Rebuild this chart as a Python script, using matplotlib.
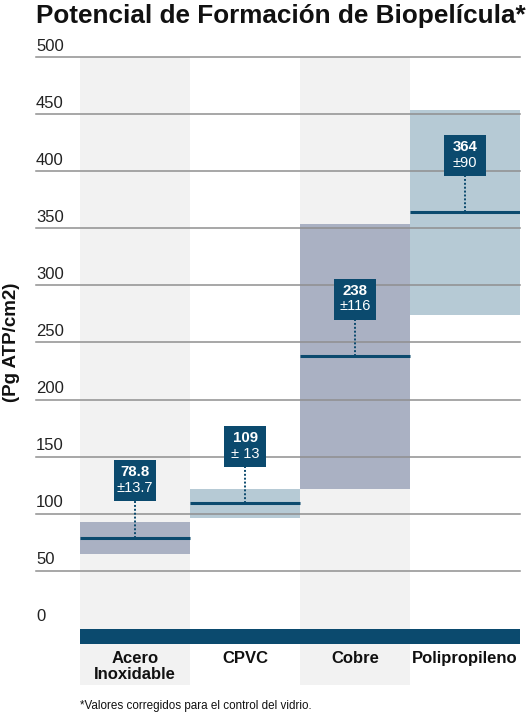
import matplotlib
matplotlib.use("Agg")
import matplotlib.pyplot as plt
from matplotlib.patches import Rectangle
from matplotlib.transforms import blended_transform_factory

plt.rcParams['font.family'] = ['Liberation Sans', 'DejaVu Sans']

categories = ["Acero\nInoxidable", "CPVC", "Cobre", "Polipropileno"]
means = [78.8, 109, 238, 364]
errors = [13.7, 13, 116, 90]
value_labels = ["78.8", "109", "238", "364"]
error_labels = ["±13.7", "± 13", "±116", "±90"]
yticks = [0, 50, 100, 150, 200, 250, 300, 350, 400, 450, 500]

band_colors = ["#aab1c3", "#b6cad5", "#aab1c3", "#b6cad5"]
navy = "#0b4a6e"
W, H = 527, 715

fig = plt.figure(figsize=(W / 100, H / 100), dpi=100)
ax = fig.add_axes([80 / W, (H - 685) / H, 440 / W, 628 / H])
ax.set_xlim(0, 4)
ax.set_ylim(-50, 500)
ax.axis("off")

# alternating column backgrounds
for i in range(len(categories)):
    if i % 2 == 0:
        ax.add_patch(Rectangle((i, -50), 1, 550, facecolor="#f2f2f2",
                               edgecolor="none", zorder=0))

# bands (mean ± error)
x = [i + 0.5 for i in range(len(categories))]
ax.bar(x, [2 * e for e in errors], bottom=[m - e for m, e in zip(means, errors)],
       width=1.0, color=band_colors, zorder=1)

# gridlines and tick labels
lt = blended_transform_factory(fig.transFigure, ax.transData)
for t in yticks:
    if t > 0:
        ax.plot([36 / W, 520 / W], [t, t], transform=lt, color="#8f8f8f",
                lw=1.1, zorder=2, clip_on=False)
    ax.text(36 / W, t + 3, str(t), transform=lt, ha="left", va="bottom",
            fontsize=12, color="#222222")

# dark base band
ax.add_patch(Rectangle((0, -14), 4, 13, facecolor=navy, edgecolor="none", zorder=3))

# mean lines, dotted connectors, label boxes
box_w = 0.38
for xi, m, vl, el in zip(x, means, value_labels, error_labels):
    ax.hlines(m, xi - 0.5, xi + 0.5, color=navy, lw=2.2, zorder=4)
    ax.plot([xi, xi], [m, m + 32], color=navy, lw=1.4, ls=(0, (1, 1)), zorder=4)
    ax.add_patch(Rectangle((xi - box_w / 2, m + 32), box_w, 36, facecolor=navy,
                           edgecolor="none", zorder=5))
    ax.text(xi, m + 57.5, vl, ha="center", va="center", color="white",
            fontsize=10.8, fontweight="bold", zorder=6)
    ax.text(xi, m + 43.5, el, ha="center", va="center", color="white",
            fontsize=10.5, zorder=6)

# category labels
for xi, c in zip(x, categories):
    ax.text(xi, -20, c, ha="center", va="top", fontsize=12, fontweight="bold",
            color="#111111", linespacing=1.1)

# title, y label, footnote
fig.text(36 / W, 1 - 16 / H, "Potencial de Formación de Biopelícula*",
         ha="left", va="center", fontsize=18.8, fontweight="bold", color="#111111")
fig.text(12 / W, 1 - 342 / H, "(Pg ATP/cm2)", rotation=90, ha="center",
         va="center", fontsize=13.5, fontweight="bold", color="#111111")
fig.text(80 / W, 1 - 706 / H, "*Valores corregidos para el control del vidrio.",
         ha="left", va="center", fontsize=8.4, color="#111111")

fig.savefig("out.png", dpi=100)
